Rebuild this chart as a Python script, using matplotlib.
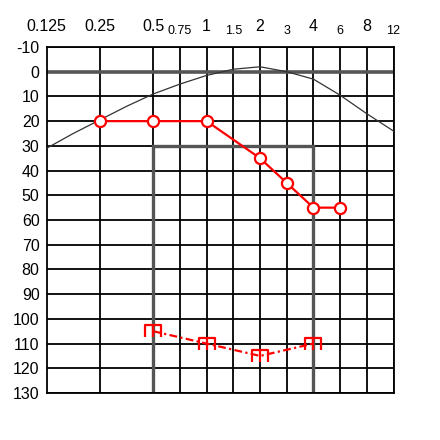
import numpy as np
import matplotlib.pyplot as plt
from matplotlib.path import Path
from matplotlib.markers import MarkerStyle
from matplotlib.transforms import blended_transform_factory

plt.rcParams['font.family'] = ['Liberation Sans', 'DejaVu Sans']

# frequency axis (kHz), drawn at equal steps, 0.125 -> 0.25 and 0.25 -> 0.5 take two steps
freq_labels = ['0.125', '0.25', '0.5', '0.75', '1', '1.5', '2', '3', '4', '6', '8', '12']
freq_pos = [0, 2, 4, 5, 6, 7, 8, 9, 10, 11, 12, 13]
big_labels = ['0.125', '0.25', '0.5', '1', '2', '4', '8']
pos = dict(zip(freq_labels, freq_pos))

db_ticks = list(range(-10, 131, 10))

# air conduction (circles)
ac_freq = ['0.25', '0.5', '1', '2', '3', '4', '6']
ac_db = [20, 20, 20, 35, 45, 55, 55]

# bone conduction (bracket markers)
bc_freq = ['0.5', '1', '2', '4']
bc_db = [105, 110, 115, 110]

# reference curve, read at each grid step 0..13
curve_x = list(range(14))
curve_db = [31, 25, 19.5, 14, 9, 5, 1.5, -1, -2, 0, 3, 9.5, 17, 24]

# box
box_freq = ['0.5', '0.5', '4', '4']
box_db = [130, 30, 30, 130]

fig = plt.figure(figsize=(4.4, 4.4), dpi=100)
ax = fig.add_axes([46.5 / 440, 47 / 440, 347 / 440, 346 / 440])

ax.set_xlim(0, 13)
ax.set_ylim(130, -10)

# grid
for x in freq_pos[1:]:
    ax.axvline(x, color='black', lw=1.3, zorder=1)
for y in db_ticks:
    ax.axhline(y, color='black', lw=1.3, zorder=1)
ax.axhline(0, color='#555555', lw=2.6, zorder=2)

for s in ax.spines.values():
    s.set_linewidth(1.3)
    s.set_color('black')

ax.set_xticks([])
ax.set_yticks(db_ticks)
ax.set_yticklabels([str(v) for v in db_ticks], fontsize=11.5)
ax.tick_params(axis='y', length=0, pad=5)

trans = blended_transform_factory(ax.transData, fig.transFigure)
for lab, x in zip(freq_labels, freq_pos):
    if lab in big_labels:
        ax.text(x, 1 - 31 / 440, lab, fontsize=11.5, ha='center', va='baseline', transform=trans)
    else:
        ax.text(x, 1 - 33.5 / 440, lab, fontsize=9, ha='center', va='baseline', transform=trans)

# reference curve
ax.plot(curve_x, curve_db, color='#333333', lw=0.9, zorder=3)

# box
ax.plot([pos[f] for f in box_freq], box_db, color='#555555', lw=2.4, zorder=2,
        solid_joinstyle='miter')

# bone conduction: open-bottom bracket with a middle leg
bracket = MarkerStyle(Path([(-1.2, -1), (-1.2, 1), (1.2, 1), (1.2, -1)]),
                      fillstyle='none', joinstyle='miter', capstyle='butt')
bc_x = [pos[f] for f in bc_freq]
ax.plot(bc_x, bc_db, color='red', lw=1.6,
        linestyle=(0, (3.5, 1.5, 1, 1.5)), zorder=4)
ax.plot(bc_x, bc_db, linestyle='none', marker=bracket,
        markersize=11, markeredgecolor='red',
        markeredgewidth=1.6, zorder=5)
ax.plot(bc_x, bc_db, linestyle='none', marker='|',
        markersize=9, markeredgecolor='red', markeredgewidth=1.6, zorder=6)

# air conduction
ax.plot([pos[f] for f in ac_freq], ac_db, color='red', lw=1.6, zorder=4,
        marker='o', markersize=8, markerfacecolor='white', markeredgecolor='red',
        markeredgewidth=1.6)

fig.savefig('out.png', dpi=100)
